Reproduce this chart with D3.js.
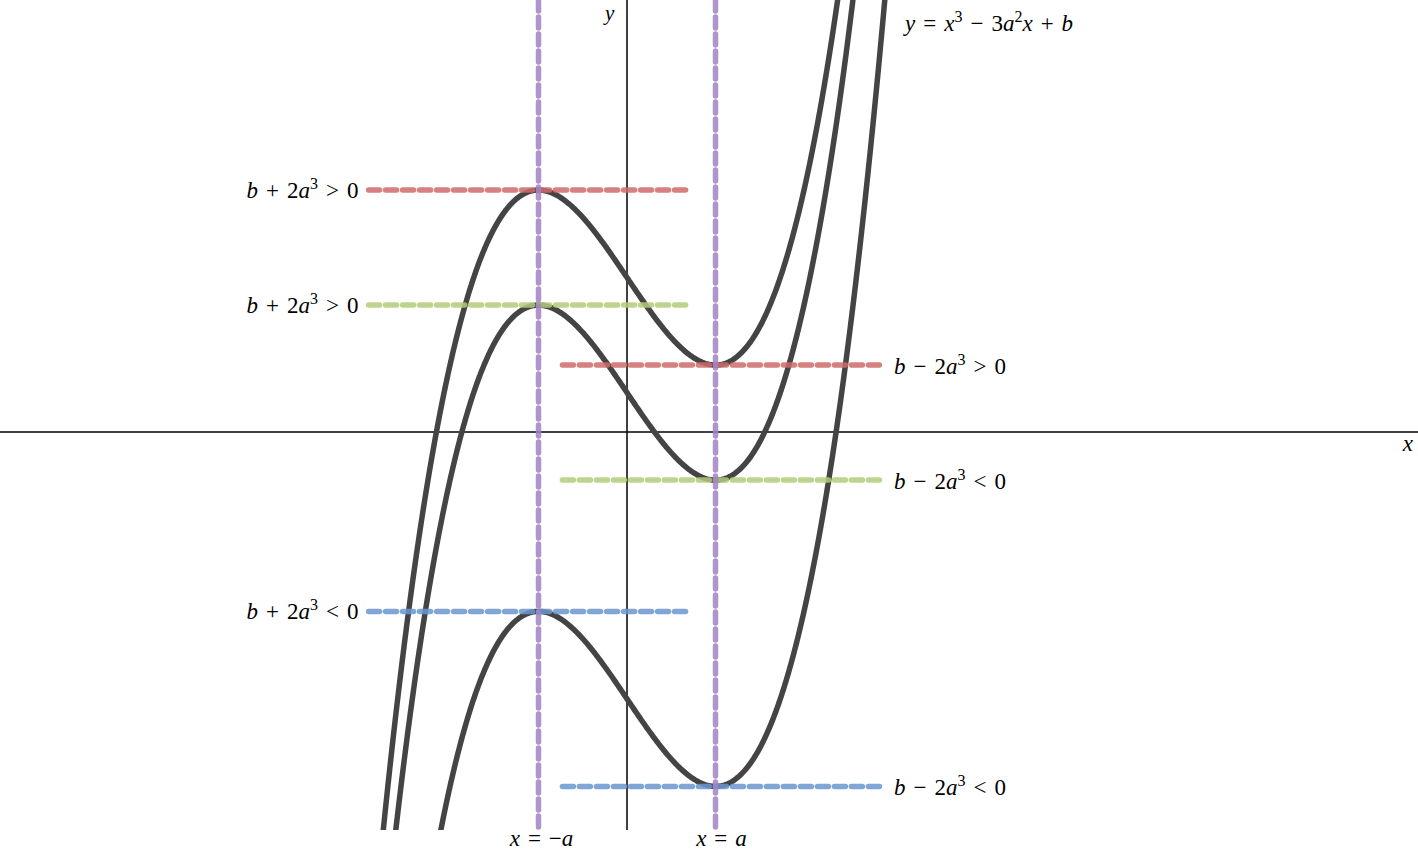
<!DOCTYPE html>
<html>
<head>
<meta charset="utf-8">
<script src="https://cdn.jsdelivr.net/npm/d3@7"></script>
<style>
  body { margin: 0; background: #fff; }
  svg { display: block; }
</style>
</head>
<body>
<svg id="chart" width="1418" height="850"></svg>
<script>
// data
const a = 1;
const bValues = [3.53, 0.90, -6.10];          // one cubic per b
const maxSigns = [">", ">", "<"];             // sign of b + 2a^3
const minSigns = [">", "<", "<"];             // sign of b - 2a^3
const leftSpan = [-2.92, 0.72];               // dashed line at x = -a
const rightSpan = [-0.73, 2.86];              // dashed line at x = a
const xDomain = [-7.085, 8.938];
const yDomain = [-9.097, 9.874];

const levelColors = ["#cf6a6a", "#b3cc78", "#6a96cf"];
const vColor = "#a083c3";

const width = 1418
const plotBottom = 830

const svg = d3.select("#chart")
    .attr("font-family", "'Liberation Serif', 'Times New Roman', serif")
    .attr("font-size", 23);

const x = d3.scaleLinear().domain(xDomain).range([0, width]);
const y = d3.scaleLinear().domain(yDomain).range([plotBottom, 0]);

const cubic = (t, b) => t * t * t - 3 * a * a * t + b;

svg.append("clipPath").attr("id", "plotClip")
    .append("rect")
    .attr("x", 0).attr("y", 0)
    .attr("width", width).attr("height", plotBottom);

// axes
svg.append("line")
    .attr("x1", x(xDomain[0])).attr("x2", x(xDomain[1]))
    .attr("y1", y(0)).attr("y2", y(0))
    .attr("stroke", "#000").attr("stroke-width", 1.5);

svg.append("line")
    .attr("x1", x(0)).attr("x2", x(0))
    .attr("y1", y(yDomain[0])).attr("y2", y(yDomain[1]))
    .attr("stroke", "#000").attr("stroke-width", 1.5);

// curves
const line = d3.line()
    .x((d) => x(d[0]))
    .y((d) => y(d[1]));

const ts = d3.range(-3.5, 3.5001, 0.01);

svg.append("g")
    .attr("clip-path", "url(#plotClip)")
    .selectAll("path")
    .data(bValues)
    .enter()
    .append("path")
    .attr("d", (b) => line(ts.map((t) => [t, cubic(t, b)])))
    .attr("fill", "none")
    .attr("stroke", "#444")
    .attr("stroke-width", 5.5);

// horizontal dashed levels
const levels = [];
bValues.forEach((b, i) => {
    levels.push({ y: cubic(-a, b), span: leftSpan, color: levelColors[i], side: "left", sign: maxSigns[i], op: "+" });
    levels.push({ y: cubic(a, b), span: rightSpan, color: levelColors[i], side: "right", sign: minSigns[i], op: "\u2212" });
});

svg.append("g")
    .selectAll("line")
    .data(levels)
    .enter()
    .append("line")
    .attr("x1", (d) => x(d.span[0]))
    .attr("x2", (d) => x(d.span[1]))
    .attr("y1", (d) => y(d.y))
    .attr("y2", (d) => y(d.y))
    .attr("stroke", (d) => d.color)
    .attr("stroke-opacity", 0.85)
    .attr("stroke-width", 5.5)
    .attr("stroke-linecap", "round")
    .attr("stroke-dasharray", "11,6");

// vertical dashed lines at x = -a and x = a
svg.append("g")
    .selectAll("line")
    .data([-a, a])
    .enter()
    .append("line")
    .attr("x1", (d) => x(d))
    .attr("x2", (d) => x(d))
    .attr("y1", y(yDomain[1]))
    .attr("y2", y(yDomain[0]))
    .attr("stroke", vColor)
    .attr("stroke-opacity", 0.85)
    .attr("stroke-width", 5.5)
    .attr("stroke-linecap", "round")
    .attr("stroke-dasharray", "11,6");

// math-ish text: parts are [text, style, gapBefore]
function mathText(g, px, py, anchor, parts) {
    const t = g.append("text")
        .attr("x", px)
        .attr("y", py)
        .attr("text-anchor", anchor);
    let raised = false;
    parts.forEach((p) => {
        const s = t.append("tspan").text(p[0]);
        let dy = 0;
        if (p[1] === "s" && !raised) { dy = -9; raised = true; }
        else if (p[1] !== "s" && raised) { dy = 9; raised = false; }
        if (dy) s.attr("dy", dy);
        if (p[2]) s.attr("dx", p[2]);
        if (p[1] === "i") s.attr("font-style", "italic");
        if (p[1] === "s") s.attr("font-size", 16);
    });
    return t;
}

const gap = 8;
const labels = svg.append("g");

levels.forEach((d) => {
    const parts = [
        ["b", "i", 0], [d.op, "n", gap], ["2", "n", gap], ["a", "i", 0], ["3", "s", 0],
        [d.sign, "n", gap], ["0", "n", gap]
    ];
    if (d.side === "left") {
        mathText(labels, x(d.span[0]) - 10, y(d.y) + 8, "end", parts);
    } else {
        mathText(labels, x(d.span[1]) + 14, y(d.y) + 9, "start", parts);
    }
});

mathText(labels, 905, 31, "start", [
    ["y", "i", 0], ["=", "n", gap], ["x", "i", gap], ["3", "s", 0], ["\u2212", "n", gap],
    ["3", "n", gap], ["a", "i", 0], ["2", "s", 0], ["x", "i", 0], ["+", "n", gap], ["b", "i", gap]
]);

mathText(labels, x(0) - 22, 20, "start", [["y", "i", 0]]).attr("font-size", 21);
mathText(labels, width - 5, y(0) + 19, "end", [["x", "i", 0]]);

mathText(labels, x(-a) + 3, 846, "middle", [["x", "i", 0], ["=", "n", gap], ["\u2212", "n", gap], ["a", "i", 0]]);
mathText(labels, x(a) + 6, 846, "middle", [["x", "i", 0], ["=", "n", gap], ["a", "i", gap]]);
</script>
</body>
</html>
